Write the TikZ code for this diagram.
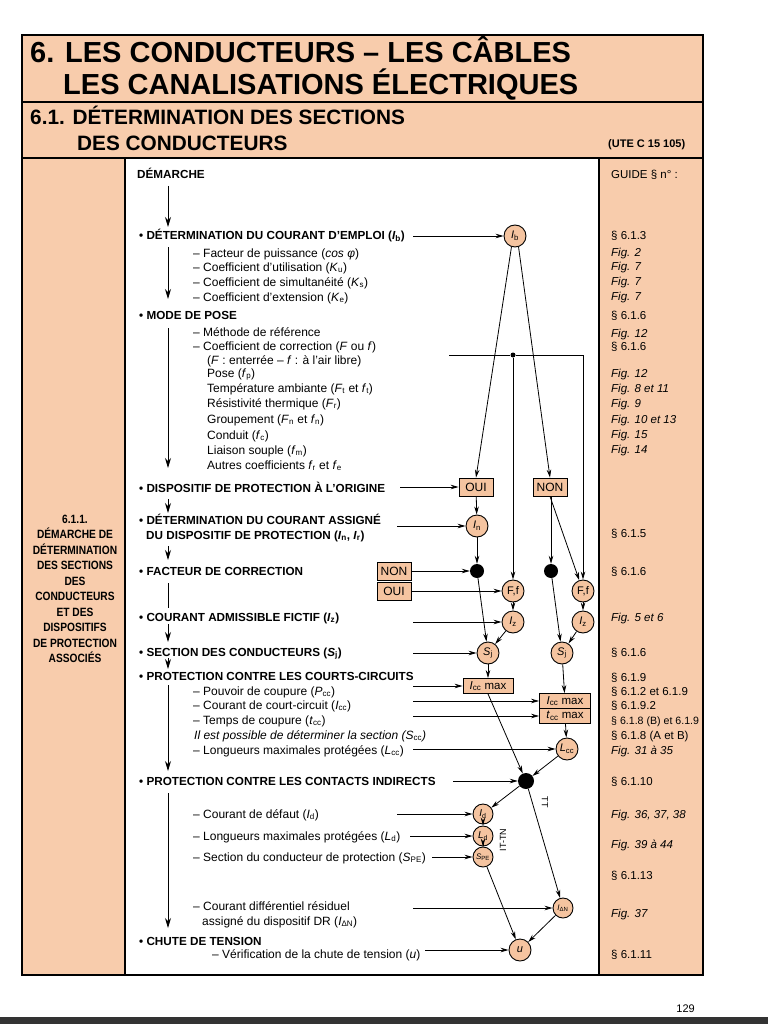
\documentclass[tikz,border=0pt]{standalone}
\usepackage{fontspec}
\setmainfont{Liberation Sans}
\newfontfamily\condfont[FakeStretch=0.85]{Liberation Sans}
\usetikzlibrary{arrows.meta}
\definecolor{peach}{RGB}{248,204,172}
\definecolor{nodepeach}{RGB}{245,196,160}
\newcommand\vsub[2]{\textit{#1}\textsubscript{#2}}
\begin{document}
\begin{tikzpicture}[x=1pt,y=-1pt,
  ln/.style={line width=0.8pt},
  myarr/.style={line width=0.8pt,-{Stealth[length=8pt,width=4.5pt]}},
  mainarr/.style={line width=0.9pt,-{Stealth[length=10pt,width=6pt]}},
  circ/.style={circle,draw,line width=0.9pt,fill=nodepeach,minimum size=22pt,inner sep=0pt,font=\fontsize{11}{11}\selectfont},
  circs/.style={circ,minimum size=20pt,font=\fontsize{10}{10}\selectfont},
  bdot/.style={circle,fill=black,minimum size=14pt,inner sep=0pt},
  jdot/.style={circle,fill=black,minimum size=5pt,inner sep=0pt},
  yn/.style={draw,line width=0.8pt,fill=nodepeach,minimum width=34pt,minimum height=18pt,inner sep=0pt,font=\fontsize{12}{12}\selectfont},
  ccbox/.style={draw,line width=0.8pt,fill=nodepeach,minimum height=15pt,inner sep=0pt,font=\fontsize{11.5}{11}\selectfont},
  hd/.style={anchor=base west,inner sep=0pt,font=\fontsize{11.7}{12}\selectfont\bfseries},
  sb/.style={anchor=base west,inner sep=0pt,font=\fontsize{12}{12}\selectfont},
  sbi/.style={anchor=base west,inner sep=0pt,font=\fontsize{12}{12}\selectfont\itshape},
  gd/.style={anchor=base west,inner sep=0pt,font=\fontsize{11.5}{12}\selectfont},
  gdi/.style={anchor=base west,inner sep=0pt,font=\fontsize{11.5}{12}\selectfont\itshape},
]
\useasboundingbox (0,0) rectangle (768,1024);
\fill[white] (0,0) rectangle (768,1024);
% frame and bands
\fill[peach] (22,35) rectangle (703,158);
\fill[peach] (22,158) rectangle (125,975);
\fill[peach] (599,158) rectangle (703,975);
\draw[line width=1.5pt] (22,102) -- (703,102);
\draw[line width=1.5pt] (22,158) -- (703,158);
\draw[line width=1.5pt] (125,158) -- (125,975);
\draw[line width=1.5pt] (599,158) -- (599,975);
\draw[line width=1.8pt] (22,35) rectangle (703,975);
\fill[black!80] (0,1017) rectangle (768,1024);

% titles
\node[anchor=base west,inner sep=0pt,font=\fontsize{29}{29}\selectfont\bfseries] (ti1) at (30,63) {6. LES CONDUCTEURS – LES CÂBLES};
\node[anchor=base west,inner sep=0pt,font=\fontsize{29}{29}\selectfont\bfseries] (ti2) at (63,95) {LES CANALISATIONS ÉLECTRIQUES};
\node[anchor=base west,inner sep=0pt,font=\fontsize{20.8}{21}\selectfont\bfseries] (st1) at (30,125) {6.1. DÉTERMINATION DES SECTIONS};
\node[anchor=base west,inner sep=0pt,font=\fontsize{20.8}{21}\selectfont\bfseries] (st2) at (77,151) {DES CONDUCTEURS};
\node[anchor=base west,inner sep=0pt,font=\fontsize{11}{11}\selectfont\bfseries] (ute) at (608,148) {(UTE C 15 105)};

% left column
\node[anchor=north,align=center,inner sep=0pt,font=\condfont\fontsize{12}{15.5}\selectfont\bfseries] (lefttxt) at (75,514.5)
 {6.1.1.\\DÉMARCHE DE\\DÉTERMINATION\\DES SECTIONS\\DES\\CONDUCTEURS\\ET DES\\DISPOSITIFS\\DE PROTECTION\\ASSOCIÉS};

% main texts
\node[hd] (tdem) at (137,179) {DÉMARCHE};
\node[hd] (h1) at (139,240) {• DÉTERMINATION DU COURANT D’EMPLOI (\vsub{I}{b})};
\node[sb] (s11) at (193,257) {– Facteur de puissance (\textit{cos φ})};
\node[sb] (s12) at (193,271) {– Coefficient d’utilisation (\vsub{K}{u})};
\node[sb] (s13) at (193,286) {– Coefficient de simultanéité (\vsub{K}{s})};
\node[sb] (s14) at (193,301) {– Coefficient d’extension (\vsub{K}{e})};
\node[hd] (h2) at (139,319) {• MODE DE POSE};
\node[sb] (s21) at (193,336) {– Méthode de référence};
\node[sb] (s22) at (193,350) {– Coefficient de correction (\textit{F} ou \textit{f})};
\node[sb] (s23) at (207,364) {(\textit{F} : enterrée – \textit{f} : à l’air libre)};
\node[sb] (s24) at (207,377) {Pose (\vsub{f}{p})};
\node[sb] (s25) at (207,392) {Température ambiante (\vsub{F}{t} et \vsub{f}{t})};
\node[sb] (s26) at (207,407) {Résistivité thermique (\vsub{F}{r})};
\node[sb] (s27) at (207,423) {Groupement (\vsub{F}{n} et \vsub{f}{n})};
\node[sb] (s28) at (207,439) {Conduit (\vsub{f}{c})};
\node[sb] (s29) at (207,454) {Liaison souple (\vsub{f}{m})};
\node[sb] (s2a) at (207,469) {Autres coefficients \vsub{f}{r} et \vsub{f}{e}};
\node[hd] (h3) at (139,492) {• DISPOSITIF DE PROTECTION À L’ORIGINE};
\node[hd] (h4) at (139,524) {• DÉTERMINATION DU COURANT ASSIGNÉ};
\node[hd] (h4b) at (146,539) {DU DISPOSITIF DE PROTECTION (\vsub{I}{n}, \vsub{I}{r})};
\node[hd] (h5) at (139,575) {• FACTEUR DE CORRECTION};
\node[hd] (h6) at (139,621) {• COURANT ADMISSIBLE FICTIF (\vsub{I}{z})};
\node[hd] (h7) at (139,656) {• SECTION DES CONDUCTEURS (\vsub{S}{j})};
\node[hd] (h8) at (139,680) {• PROTECTION CONTRE LES COURTS-CIRCUITS};
\node[sb] (s81) at (193,695) {– Pouvoir de coupure (\vsub{P}{cc})};
\node[sb] (s82) at (193,709) {– Courant de court-circuit (\vsub{I}{cc})};
\node[sb] (s83) at (193,724) {– Temps de coupure (\vsub{t}{cc})};
\node[sbi] (s84) at (194,739) {Il est possible de déterminer la section (\textit{S}\textsubscript{\upshape cc})};
\node[sb] (s85) at (193,754) {– Longueurs maximales protégées (\vsub{L}{cc})};
\node[hd] (h9) at (139,785) {• PROTECTION CONTRE LES CONTACTS INDIRECTS};
\node[sb] (s91) at (193,818) {– Courant de défaut (\vsub{I}{d})};
\node[sb] (s92) at (193,840) {– Longueurs maximales protégées (\vsub{L}{d})};
\node[sb] (s93) at (193,861) {– Section du conducteur de protection (\vsub{S}{PE})};
\node[sb] (s94) at (193,910) {– Courant différentiel résiduel};
\node[sb] (s95) at (202,925) {assigné du dispositif DR (\vsub{I}{ΔN})};
\node[hd] (h10) at (139,945) {• CHUTE DE TENSION};
\node[sb] (s101) at (212,958) {– Vérification de la chute de tension (\textit{u})};

% guide column
\node[gd] (g0) at (611,179) {GUIDE § n° :};
\node[gd] (g1) at (611,240) {§ 6.1.3};
\node[gdi] (g2) at (611,256) {Fig. 2};
\node[gdi] (g3) at (611,270) {Fig. 7};
\node[gdi] (g4) at (611,285) {Fig. 7};
\node[gdi] (g5) at (611,300) {Fig. 7};
\node[gd] (g6) at (611,319) {§ 6.1.6};
\node[gdi] (g7) at (611,337) {Fig. 12};
\node[gd] (g8) at (611,350) {§ 6.1.6};
\node[gdi] (g9) at (611,377) {Fig. 12};
\node[gdi] (g10) at (611,392) {Fig. 8 et 11};
\node[gdi] (g11) at (611,407) {Fig. 9};
\node[gdi] (g12) at (611,423) {Fig. 10 et 13};
\node[gdi] (g13) at (611,438) {Fig. 15};
\node[gdi] (g14) at (611,453) {Fig. 14};
\node[gd] (g15) at (611,537) {§ 6.1.5};
\node[gd] (g16) at (611,575) {§ 6.1.6};
\node[gdi] (g17) at (611,621) {Fig. 5 et 6};
\node[gd] (g18) at (611,656) {§ 6.1.6};
\node[gd] (g19) at (611,681) {§ 6.1.9};
\node[gd] (g20) at (611,695) {§ 6.1.2 et 6.1.9};
\node[gd] (g21) at (611,709) {§ 6.1.9.2};
\node[gd,font=\fontsize{10.6}{12}\selectfont] (g22) at (611,724) {§ 6.1.8 (B) et 6.1.9};
\node[gd] (g23) at (611,739) {§ 6.1.8 (A et B)};
\node[gdi] (g24) at (611,754) {Fig. 31 à 35};
\node[gd] (g25) at (611,785) {§ 6.1.10};
\node[gdi] (g26) at (611,818) {Fig. 36, 37, 38};
\node[gdi] (g27) at (611,848) {Fig. 39 à 44};
\node[gd] (g28) at (611,879) {§ 6.1.13};
\node[gdi] (g29) at (611,917) {Fig. 37};
\node[gd] (g30) at (611,958) {§ 6.1.11};

\node[anchor=base east,inner sep=0pt,font=\fontsize{11}{11}\selectfont] (pg) at (695,1012) {129};

% flow nodes
\node[circ] (Ib) at (515,236) {\vsub{I}{b}};
\node[yn] (oui1) at (476,487) {OUI};
\node[yn] (non1) at (550,487) {NON};
\node[circ] (In) at (477,526) {\vsub{I}{n}};
\node[yn] (non2) at (394,571) {NON};
\node[yn] (oui2) at (394,591) {OUI};
\node[bdot] (dL) at (477,571) {};
\node[bdot] (dR) at (551,571) {};
\node[circ] (FfL) at (513,591) {F,f};
\node[circ] (FfR) at (583,591) {F,f};
\node[circ] (IzL) at (513,622) {\vsub{I}{z}};
\node[circ] (IzR) at (583,622) {\vsub{I}{z}};
\node[circ] (SjL) at (488,653) {\vsub{S}{j}};
\node[circ] (SjR) at (562,653) {\vsub{S}{j}};
\node[ccbox,minimum width=50pt] (IccL) at (488,686) {\vsub{I}{cc} max};
\node[ccbox,minimum width=51pt] (IccR) at (565,701) {\vsub{I}{cc} max};
\node[ccbox,minimum width=51pt] (tccR) at (565,716) {\vsub{t}{cc} max};
\node[circ] (Lcc) at (567,749) {\vsub{L}{cc}};
\node[bdot,minimum size=16pt] (dB) at (526,781) {};
\node[circs] (Id) at (483,814) {\vsub{I}{d}};
\node[circs] (Ld) at (483,836) {\vsub{L}{d}};
\node[circs,font=\fontsize{8}{8}\selectfont] (Spe) at (483,857) {\vsub{S}{PE}};
\node[circs,font=\fontsize{8}{8}\selectfont] (Idn) at (563,908) {\vsub{I}{ΔN}};
\node[circ] (u) at (520,950) {\textit{u}};
\node[jdot] (J) at (513,355) {};
\coordinate (h0) at (449,355);
\coordinate (c1) at (583,355);
\node[rotate=90,inner sep=0pt,font=\fontsize{9}{9}\selectfont] (ittn) at (503,840) {IT-TN};
\node[rotate=-90,inner sep=0pt,font=\fontsize{9}{9}\selectfont] (tt) at (545,802) {TT};

% flow connectors
\draw[ln] (h0) -- (J) -- (c1);
\draw[myarr] (c1) -- (FfR);
\draw[myarr] (J) -- (FfL);
\draw[myarr] (Ib.252) -- (oui1.north);
\draw[myarr] (Ib.288) -- (non1.north);
\draw[myarr] (oui1) -- (In);
\draw[myarr] (In) -- (dL);
\draw[myarr] (non2) -- (dL);
\draw[myarr] (oui2) -- (FfL);
\draw[myarr] (FfL) -- (IzL);
\draw[myarr] (dL) -- (SjL);
\draw[myarr] (IzL) -- (SjL);
\draw[myarr] (non1.south -| dR) -- (dR);
\draw[myarr] (non1.south) -- (FfR);
\draw[myarr] (FfR) -- (IzR);
\draw[myarr] (dR) -- (SjR);
\draw[myarr] (IzR) -- (SjR);
\draw[myarr] (SjL) -- (IccL);
\draw[myarr] (SjR) -- (IccR);
\draw[myarr] (tccR) -- (Lcc);
\draw[myarr] (IccL.south) -- (dB);
\draw[myarr] (Lcc) -- (dB);
\draw[myarr] (dB) -- (Id);
\draw[myarr] (dB) -- (Idn);
\draw[myarr] (Id) -- (Ld);
\draw[myarr] (Ld) -- (Spe);
\draw[myarr] (Spe) -- (u);
\draw[myarr] (Idn) -- (u);

% text arrows
\coordinate (a1) at (413,236); \draw[myarr] (a1) -- (Ib);
\coordinate (a2) at (400,487); \draw[myarr] (a2) -- (oui1);
\coordinate (a3) at (397,526); \draw[myarr] (a3) -- (In);
\coordinate (a4) at (413,622); \draw[myarr] (a4) -- (IzL);
\coordinate (a5) at (413,653); \draw[myarr] (a5) -- (SjL);
\coordinate (a6) at (413,686); \draw[myarr] (a6) -- (IccL);
\coordinate (a7) at (413,701); \draw[myarr] (a7) -- (IccR);
\coordinate (a8) at (413,716); \draw[myarr] (a8) -- (tccR);
\coordinate (a9) at (413,749); \draw[myarr] (a9) -- (Lcc);
\coordinate (a10) at (453,781); \draw[myarr] (a10) -- (dB);
\coordinate (a11) at (397,814); \draw[myarr] (a11) -- (Id);
\coordinate (a12) at (410,836); \draw[myarr] (a12) -- (Ld);
\coordinate (a13) at (432,857); \draw[myarr] (a13) -- (Spe);
\coordinate (a14) at (413,908); \draw[myarr] (a14) -- (Idn);
\coordinate (a15) at (425,950); \draw[myarr] (a15) -- (u);

% main left arrows
\coordinate (m1a) at (168,186); \coordinate (m1b) at (168,227); \draw[mainarr] (m1a) -- (m1b);
\coordinate (m2a) at (168,247); \coordinate (m2b) at (168,299); \draw[mainarr] (m2a) -- (m2b);
\coordinate (m3a) at (168,328); \coordinate (m3b) at (168,468); \draw[mainarr] (m3a) -- (m3b);
\coordinate (m4a) at (168,499); \coordinate (m4b) at (168,513); \draw[mainarr] (m4a) -- (m4b);
\coordinate (m5a) at (168,546); \coordinate (m5b) at (168,560); \draw[mainarr] (m5a) -- (m5b);
\coordinate (m6a) at (168,583); \coordinate (m6b) at (168,608); \draw[line width=0.9pt] (m6a) -- (m6b);
\coordinate (m7a) at (168,624); \coordinate (m7b) at (168,642); \draw[mainarr] (m7a) -- (m7b);
\coordinate (m8a) at (168,658); \coordinate (m8b) at (168,669); \draw[mainarr] (m8a) -- (m8b);
\coordinate (m9a) at (168,685); \coordinate (m9b) at (168,771); \draw[mainarr] (m9a) -- (m9b);
\coordinate (m10a) at (168,793); \coordinate (m10b) at (168,928); \draw[mainarr] (m10a) -- (m10b);
\end{tikzpicture}
\end{document}
